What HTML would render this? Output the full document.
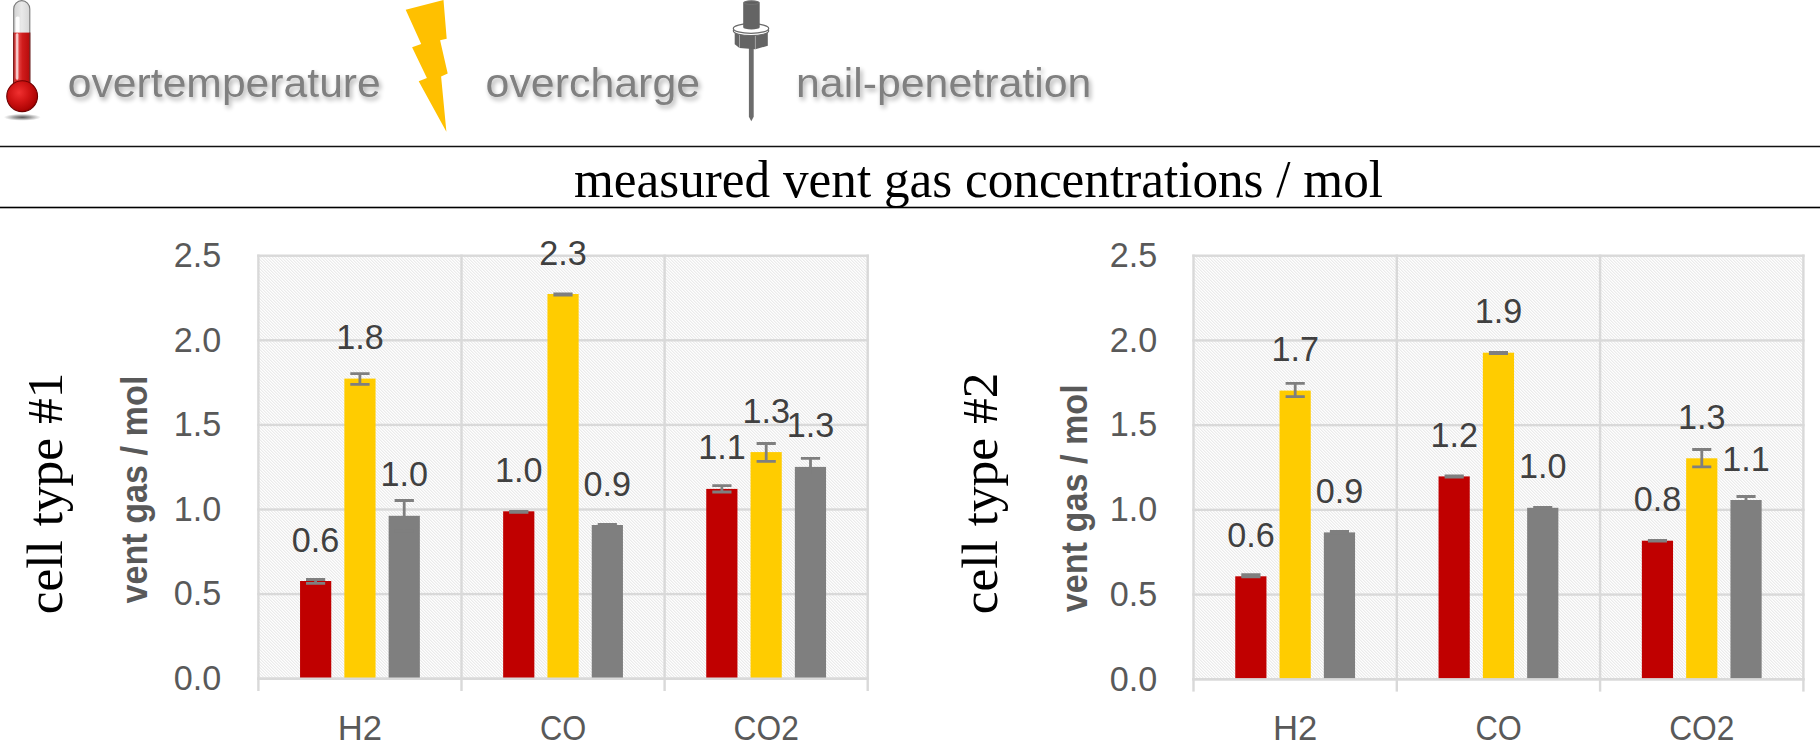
<!DOCTYPE html>
<html lang="en"><head><meta charset="utf-8"><title>measured vent gas concentrations</title>
<style>html,body{margin:0;padding:0;background:#fff;}body{width:1820px;height:741px;overflow:hidden;}svg{display:block;}
text{font-family:"Liberation Sans", Arial, Helvetica, sans-serif;}
.serif{font-family:"Liberation Serif", "Times New Roman", Times, serif;}
</style></head><body>
<svg width="1820" height="741" viewBox="0 0 1820 741">
<defs>
<pattern id="hatch" width="3" height="3" patternUnits="userSpaceOnUse" shape-rendering="crispEdges"><rect width="3" height="3" fill="#fefefe"/><rect x="0" y="0" width="1" height="1" fill="#ebebeb"/><rect x="1" y="1" width="1" height="1" fill="#ebebeb"/><rect x="2" y="2" width="1" height="1" fill="#ebebeb"/><rect x="1" y="0" width="1" height="1" fill="#f5f5f5"/><rect x="2" y="1" width="1" height="1" fill="#f5f5f5"/><rect x="0" y="2" width="1" height="1" fill="#f5f5f5"/></pattern>
<filter id="ts" x="-5%" y="-30%" width="110%" height="170%"><feGaussianBlur in="SourceAlpha" stdDeviation="2.6"/><feOffset dx="1.5" dy="2.6"/><feComponentTransfer><feFuncA type="linear" slope="0.33"/></feComponentTransfer><feMerge><feMergeNode/><feMergeNode in="SourceGraphic"/></feMerge></filter>
<filter id="blur3" x="-30%" y="-100%" width="160%" height="300%"><feGaussianBlur stdDeviation="2"/></filter>
<linearGradient id="tubeTop" x1="0" x2="1" y1="0" y2="0"><stop offset="0" stop-color="#d2d2d2"/><stop offset="0.5" stop-color="#e9e9e9"/><stop offset="1" stop-color="#d6d6d6"/></linearGradient>
<linearGradient id="tubeRed" x1="0" x2="1" y1="0" y2="0"><stop offset="0" stop-color="#d62424"/><stop offset="0.35" stop-color="#e03a3a"/><stop offset="0.55" stop-color="#d01c1c"/><stop offset="1" stop-color="#b80c0c"/></linearGradient>
<radialGradient id="bulb" cx="0.40" cy="0.38" r="0.65"><stop offset="0" stop-color="#f03030"/><stop offset="0.5" stop-color="#d01414"/><stop offset="0.9" stop-color="#ae0505"/><stop offset="1" stop-color="#960000"/></radialGradient>
<radialGradient id="shad" cx="0.5" cy="0.5" r="0.5"><stop offset="0" stop-color="#303030" stop-opacity="0.8"/><stop offset="0.45" stop-color="#404040" stop-opacity="0.5"/><stop offset="1" stop-color="#555555" stop-opacity="0"/></radialGradient>
<linearGradient id="hl" x1="0" x2="1" y1="0" y2="0"><stop offset="0" stop-color="#ffffff" stop-opacity="0.55"/><stop offset="0.5" stop-color="#ffffff" stop-opacity="0.85"/><stop offset="1" stop-color="#ffffff" stop-opacity="0.25"/></linearGradient>
</defs>
<rect width="1820" height="741" fill="#ffffff"/>
<g id="thermo">
<ellipse cx="22.3" cy="117.3" rx="18.6" ry="3.5" fill="url(#shad)"/>
<path d="M13.7,84 V8.9 a8.05,8.3 0 0 1 16.1,0 V84 Z" fill="url(#tubeTop)" stroke="#7a7a7a" stroke-width="1.1"/>
<rect x="15.6" y="16.5" width="4" height="18" rx="1.5" fill="#ffffff" opacity="0.95"/>
<rect x="14.2" y="32.6" width="15.1" height="53" fill="url(#tubeRed)"/>
<rect x="15.5" y="33.2" width="3.4" height="46.5" rx="1.6" fill="url(#hl)"/>
<path d="M13.7,32.6 V86 M29.8,32.6 V86" stroke="#7a0c0c" stroke-width="1.1" fill="none"/>
<circle cx="22.15" cy="96.2" r="15.4" fill="url(#bulb)" stroke="#6e0000" stroke-width="1.1"/>
</g>
<polygon points="405.7,9.8 443.5,0 446.7,38.8 440.1,40.3 447.7,73.4 441.1,76.6 446.4,131.8 418.7,81.3 426.9,77.9 412.1,47.3 421.2,43.9" fill="#ffc000"/>
<g id="nail">
<path d="M748.9,46 H753.7 V116.7 L751.3,121.3 L748.9,116.7 Z" fill="#6c6c6c"/>
<path d="M734.7,30 V44.2 L739.5,48 L755.4,49.2 L767.8,45.8 V30 Z" fill="#646464"/>
<path d="M739.5,34 V47.9 M755.4,35 V49.1" stroke="#c2c2c2" stroke-width="0.7"/>
<ellipse cx="751" cy="30.7" rx="17.7" ry="4.9" fill="#ffffff" stroke="#6a6a6a" stroke-width="1.1"/>
<ellipse cx="751" cy="28.5" rx="17.7" ry="4.8" fill="#ffffff" stroke="#6a6a6a" stroke-width="1.2"/>
<path d="M743.2,2.6 a8.25,2.3 0 0 1 16.5,0 V27.2 a8.25,2.3 0 0 1 -16.5,0 Z" fill="#646464"/>
<ellipse cx="751.45" cy="2.7" rx="7.5" ry="1.7" fill="#5f5f5f" stroke="#858585" stroke-width="0.5"/>
</g>
<text x="67.8" y="96.5" font-size="40.9" fill="#808080" filter="url(#ts)" textLength="313.0" lengthAdjust="spacingAndGlyphs">overtemperature</text>
<text x="485.6" y="96.5" font-size="40.9" fill="#808080" filter="url(#ts)" textLength="214.5" lengthAdjust="spacingAndGlyphs">overcharge</text>
<text x="796.0" y="96.5" font-size="40.9" fill="#808080" filter="url(#ts)" textLength="295.3" lengthAdjust="spacingAndGlyphs">nail-penetration</text>
<rect x="0" y="145.75" width="1820" height="1.5" fill="#111"/>
<rect x="0" y="206.7" width="1820" height="1.6" fill="#000"/>
<text class="serif" x="574" y="197" font-size="52.5" fill="#000" textLength="809" lengthAdjust="spacingAndGlyphs">measured vent gas concentrations / mol</text>
<g>
<rect x="258.4" y="255.7" width="609.3" height="423.0" fill="url(#hatch)"/>
<rect x="257.2" y="677.50" width="611.7" height="2.4" fill="#d9d9d9"/>
<rect x="257.2" y="592.90" width="611.7" height="2.4" fill="#d9d9d9"/>
<rect x="257.2" y="508.30" width="611.7" height="2.4" fill="#d9d9d9"/>
<rect x="257.2" y="423.70" width="611.7" height="2.4" fill="#d9d9d9"/>
<rect x="257.2" y="339.10" width="611.7" height="2.4" fill="#d9d9d9"/>
<rect x="257.2" y="254.50" width="611.7" height="2.4" fill="#d9d9d9"/>
<rect x="257.20" y="254.5" width="2.4" height="436.5" fill="#d9d9d9"/>
<rect x="460.30" y="254.5" width="2.4" height="436.5" fill="#d9d9d9"/>
<rect x="663.40" y="254.5" width="2.4" height="436.5" fill="#d9d9d9"/>
<rect x="866.50" y="254.5" width="2.4" height="436.5" fill="#d9d9d9"/>
<rect x="300.05" y="581.0" width="31.2" height="97.7" fill="#c00000"/>
<rect x="344.35" y="378.6" width="31.2" height="300.1" fill="#ffcc00"/>
<rect x="388.65" y="515.8" width="31.2" height="162.9" fill="#7f7f7f"/>
<rect x="503.15" y="511.3" width="31.2" height="167.4" fill="#c00000"/>
<rect x="547.45" y="294.0" width="31.2" height="384.7" fill="#ffcc00"/>
<rect x="591.75" y="525.0" width="31.2" height="153.7" fill="#7f7f7f"/>
<rect x="706.25" y="488.9" width="31.2" height="189.8" fill="#c00000"/>
<rect x="750.55" y="452.1" width="31.2" height="226.6" fill="#ffcc00"/>
<rect x="794.85" y="466.9" width="31.2" height="211.8" fill="#7f7f7f"/>
<rect x="257.2" y="677.50" width="611.7" height="2.4" fill="#d9d9d9"/>
<path d="M306.0,579.5 H325.2 M306.0,583.3 H325.2 M315.6,579.5 V583.3" stroke="#7f7f7f" stroke-width="2.8" fill="none"/>
<path d="M350.3,373.7 H369.6 M350.3,384.3 H369.6 M359.9,373.7 V384.3" stroke="#7f7f7f" stroke-width="2.8" fill="none"/>
<path d="M394.6,500.5 H413.9 M394.6,531.0 H413.9 M404.2,500.5 V531.0" stroke="#7f7f7f" stroke-width="2.8" fill="none"/>
<path d="M509.1,511.3 H528.4 M509.1,512.3 H528.4 M518.8,511.3 V512.3" stroke="#7f7f7f" stroke-width="2.8" fill="none"/>
<path d="M553.4,294.0 H572.6 M553.4,295.0 H572.6 M563.0,294.0 V295.0" stroke="#7f7f7f" stroke-width="2.8" fill="none"/>
<path d="M597.7,524.5 H616.9 M597.7,525.5 H616.9 M607.3,524.5 V525.5" stroke="#7f7f7f" stroke-width="2.8" fill="none"/>
<path d="M712.3,485.6 H731.5 M712.3,492.0 H731.5 M721.9,485.6 V492.0" stroke="#7f7f7f" stroke-width="2.8" fill="none"/>
<path d="M756.6,443.5 H775.8 M756.6,461.4 H775.8 M766.2,443.5 V461.4" stroke="#7f7f7f" stroke-width="2.8" fill="none"/>
<path d="M800.9,458.3 H820.1 M800.9,475.5 H820.1 M810.5,458.3 V475.5" stroke="#7f7f7f" stroke-width="2.8" fill="none"/>
<text x="315.6" y="551.5" font-size="34.2" fill="#404040" text-anchor="middle">0.6</text>
<text x="359.9" y="349.1" font-size="34.2" fill="#404040" text-anchor="middle">1.8</text>
<text x="404.2" y="486.3" font-size="34.2" fill="#404040" text-anchor="middle">1.0</text>
<text x="337.8" y="740.3" font-size="34.2" fill="#595959" textLength="44.3" lengthAdjust="spacingAndGlyphs">H2</text>
<text x="518.8" y="481.8" font-size="34.2" fill="#404040" text-anchor="middle">1.0</text>
<text x="563.0" y="264.5" font-size="34.2" fill="#404040" text-anchor="middle">2.3</text>
<text x="607.3" y="495.5" font-size="34.2" fill="#404040" text-anchor="middle">0.9</text>
<text x="539.9" y="740.3" font-size="34.2" fill="#595959" textLength="46.2" lengthAdjust="spacingAndGlyphs">CO</text>
<text x="721.9" y="459.4" font-size="34.2" fill="#404040" text-anchor="middle">1.1</text>
<text x="766.2" y="422.6" font-size="34.2" fill="#404040" text-anchor="middle">1.3</text>
<text x="810.5" y="437.4" font-size="34.2" fill="#404040" text-anchor="middle">1.3</text>
<text x="733.6" y="740.3" font-size="34.2" fill="#595959" textLength="65.2" lengthAdjust="spacingAndGlyphs">CO2</text>
<text x="221.3" y="690.0" font-size="34.2" fill="#595959" text-anchor="end">0.0</text>
<text x="221.3" y="605.4" font-size="34.2" fill="#595959" text-anchor="end">0.5</text>
<text x="221.3" y="520.8" font-size="34.2" fill="#595959" text-anchor="end">1.0</text>
<text x="221.3" y="436.2" font-size="34.2" fill="#595959" text-anchor="end">1.5</text>
<text x="221.3" y="351.6" font-size="34.2" fill="#595959" text-anchor="end">2.0</text>
<text x="221.3" y="267.0" font-size="34.2" fill="#595959" text-anchor="end">2.5</text>
<text transform="translate(147.0,489.6) rotate(-90)" font-size="36" font-weight="bold" fill="#595959" text-anchor="middle" textLength="228" lengthAdjust="spacingAndGlyphs">vent gas / mol</text>
<text class="serif" transform="translate(62.0,614.3) rotate(-90)" font-size="51.3" fill="#000">cell <tspan dx="1.1">type</tspan> <tspan dx="1.2">#1</tspan></text>
</g>
<g>
<rect x="1193.5" y="255.7" width="609.9" height="423.6" fill="url(#hatch)"/>
<rect x="1192.3" y="678.10" width="612.3" height="2.4" fill="#d9d9d9"/>
<rect x="1192.3" y="593.38" width="612.3" height="2.4" fill="#d9d9d9"/>
<rect x="1192.3" y="508.66" width="612.3" height="2.4" fill="#d9d9d9"/>
<rect x="1192.3" y="423.94" width="612.3" height="2.4" fill="#d9d9d9"/>
<rect x="1192.3" y="339.22" width="612.3" height="2.4" fill="#d9d9d9"/>
<rect x="1192.3" y="254.50" width="612.3" height="2.4" fill="#d9d9d9"/>
<rect x="1192.30" y="254.5" width="2.4" height="437.1" fill="#d9d9d9"/>
<rect x="1395.60" y="254.5" width="2.4" height="437.1" fill="#d9d9d9"/>
<rect x="1598.90" y="254.5" width="2.4" height="437.1" fill="#d9d9d9"/>
<rect x="1802.20" y="254.5" width="2.4" height="437.1" fill="#d9d9d9"/>
<rect x="1235.25" y="576.3" width="31.2" height="103.0" fill="#c00000"/>
<rect x="1279.55" y="390.6" width="31.2" height="288.7" fill="#ffcc00"/>
<rect x="1323.85" y="532.4" width="31.2" height="146.9" fill="#7f7f7f"/>
<rect x="1438.55" y="476.4" width="31.2" height="202.9" fill="#c00000"/>
<rect x="1482.85" y="352.7" width="31.2" height="326.6" fill="#ffcc00"/>
<rect x="1527.15" y="507.8" width="31.2" height="171.5" fill="#7f7f7f"/>
<rect x="1641.85" y="540.7" width="31.2" height="138.6" fill="#c00000"/>
<rect x="1686.15" y="458.3" width="31.2" height="221.0" fill="#ffcc00"/>
<rect x="1730.45" y="500.0" width="31.2" height="179.3" fill="#7f7f7f"/>
<rect x="1192.3" y="678.10" width="612.3" height="2.4" fill="#d9d9d9"/>
<path d="M1241.3,574.7 H1260.5 M1241.3,576.8 H1260.5 M1250.9,574.7 V576.8" stroke="#7f7f7f" stroke-width="2.8" fill="none"/>
<path d="M1285.6,383.4 H1304.8 M1285.6,396.6 H1304.8 M1295.2,383.4 V396.6" stroke="#7f7f7f" stroke-width="2.8" fill="none"/>
<path d="M1329.9,531.5 H1349.0 M1329.9,533.0 H1349.0 M1339.5,531.5 V533.0" stroke="#7f7f7f" stroke-width="2.8" fill="none"/>
<path d="M1444.6,476.0 H1463.8 M1444.6,477.2 H1463.8 M1454.2,476.0 V477.2" stroke="#7f7f7f" stroke-width="2.8" fill="none"/>
<path d="M1488.9,352.5 H1508.0 M1488.9,353.6 H1508.0 M1498.5,352.5 V353.6" stroke="#7f7f7f" stroke-width="2.8" fill="none"/>
<path d="M1533.2,507.5 H1552.3 M1533.2,508.3 H1552.3 M1542.8,507.5 V508.3" stroke="#7f7f7f" stroke-width="2.8" fill="none"/>
<path d="M1647.9,540.3 H1667.0 M1647.9,541.2 H1667.0 M1657.5,540.3 V541.2" stroke="#7f7f7f" stroke-width="2.8" fill="none"/>
<path d="M1692.2,449.5 H1711.3 M1692.2,466.8 H1711.3 M1701.8,449.5 V466.8" stroke="#7f7f7f" stroke-width="2.8" fill="none"/>
<path d="M1736.5,496.5 H1755.6 M1736.5,503.5 H1755.6 M1746.0,496.5 V503.5" stroke="#7f7f7f" stroke-width="2.8" fill="none"/>
<text x="1250.9" y="546.8" font-size="34.2" fill="#404040" text-anchor="middle">0.6</text>
<text x="1295.2" y="361.1" font-size="34.2" fill="#404040" text-anchor="middle">1.7</text>
<text x="1339.5" y="502.9" font-size="34.2" fill="#404040" text-anchor="middle">0.9</text>
<text x="1273.0" y="740.3" font-size="34.2" fill="#595959" textLength="44.3" lengthAdjust="spacingAndGlyphs">H2</text>
<text x="1454.2" y="446.9" font-size="34.2" fill="#404040" text-anchor="middle">1.2</text>
<text x="1498.5" y="323.2" font-size="34.2" fill="#404040" text-anchor="middle">1.9</text>
<text x="1542.8" y="478.3" font-size="34.2" fill="#404040" text-anchor="middle">1.0</text>
<text x="1475.4" y="740.3" font-size="34.2" fill="#595959" textLength="46.2" lengthAdjust="spacingAndGlyphs">CO</text>
<text x="1657.5" y="511.2" font-size="34.2" fill="#404040" text-anchor="middle">0.8</text>
<text x="1701.8" y="428.8" font-size="34.2" fill="#404040" text-anchor="middle">1.3</text>
<text x="1746.0" y="470.5" font-size="34.2" fill="#404040" text-anchor="middle">1.1</text>
<text x="1669.2" y="740.3" font-size="34.2" fill="#595959" textLength="65.2" lengthAdjust="spacingAndGlyphs">CO2</text>
<text x="1157.2" y="690.6" font-size="34.2" fill="#595959" text-anchor="end">0.0</text>
<text x="1157.2" y="605.9" font-size="34.2" fill="#595959" text-anchor="end">0.5</text>
<text x="1157.2" y="521.2" font-size="34.2" fill="#595959" text-anchor="end">1.0</text>
<text x="1157.2" y="436.4" font-size="34.2" fill="#595959" text-anchor="end">1.5</text>
<text x="1157.2" y="351.7" font-size="34.2" fill="#595959" text-anchor="end">2.0</text>
<text x="1157.2" y="267.0" font-size="34.2" fill="#595959" text-anchor="end">2.5</text>
<text transform="translate(1086.8,498.3) rotate(-90)" font-size="36" font-weight="bold" fill="#595959" text-anchor="middle" textLength="228" lengthAdjust="spacingAndGlyphs">vent gas / mol</text>
<text class="serif" transform="translate(997.0,614.3) rotate(-90)" font-size="51.3" fill="#000">cell <tspan dx="1.1">type</tspan> <tspan dx="1.2">#2</tspan></text>
</g>
</svg></body></html>
